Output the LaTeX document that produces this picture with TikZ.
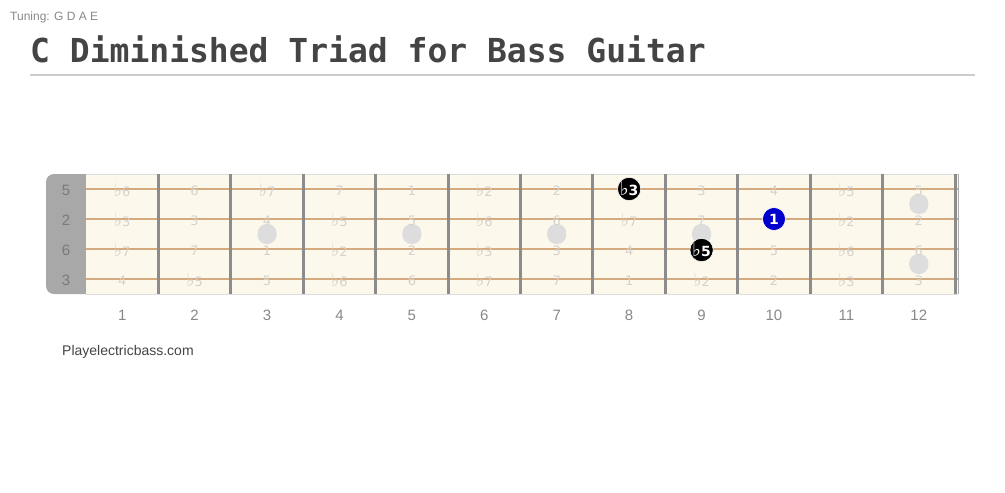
\documentclass[tikz,border=0pt]{standalone}
\usepackage{graphicx}
\usepackage{fontspec}
\setmainfont{Liberation Sans}
\newfontfamily\titlefont{DejaVu Sans Mono}
\newfontfamily\notefont{DejaVu Sans}
\definecolor{boardcream}{HTML}{FDF8EC}
\definecolor{stringtan}{HTML}{D4AA80}
\definecolor{fretgray}{HTML}{8C8C8C}
\definecolor{nutgray}{HTML}{A8A8A8}
\definecolor{inlaygray}{HTML}{DDDDDD}
\definecolor{intervalgray}{HTML}{D6D2CA}
\definecolor{labelgray}{HTML}{888888}
\definecolor{titlegray}{HTML}{444444}
\definecolor{rulegray}{HTML}{CCCCCC}
\definecolor{rootblue}{HTML}{0000CC}
\def\fretsep{72.42}
\def\nutx{86}
\def\stringsep{30}
\newcommand\flatsign{\scalebox{1.35}{♭}}

\begin{document}
\begin{tikzpicture}[x=1pt,y=-1pt]
    \tikzstyle{fret}=[draw=fretgray, line width=3pt]
    \tikzstyle{bass string}=[draw=stringtan, line width=2pt]
    \tikzstyle{interval}=[font=\notefont\fontsize{13}{13}\selectfont, text=intervalgray, inner sep=0pt]
    \tikzstyle{inlay}=[fill=inlaygray, rounded corners=9pt, minimum width=19pt, minimum height=20pt, inner sep=0pt]
    \tikzstyle{marker}=[circle, fill=black, draw=white, line width=0.6pt, minimum size=23pt, inner sep=0pt, text=white, font=\notefont\bfseries\fontsize{14}{14}\selectfont]
    \tikzstyle{root marker}=[marker, fill=rootblue]
    \tikzstyle{fret number}=[text=labelgray, font=\fontsize{15}{15}\selectfont, anchor=base, inner sep=0pt]
    \tikzstyle{string name}=[text=labelgray!90!black, font=\fontsize{15}{15}\selectfont, inner sep=0pt]

    \useasboundingbox (0,0) rectangle (1005,493);

    % Header
    \node[anchor=base west, inner sep=0pt, text=labelgray, font=\fontsize{12}{12}\selectfont] (tuning) at (10,20) {Tuning: G D A E};
    \node[anchor=base west, inner sep=0pt, text=titlegray, font=\titlefont\bfseries\fontsize{33}{33}\selectfont] (title) at (30,62) {C Diminished Triad for Bass Guitar};
    \draw[rulegray, line width=1.5pt] (30,75) -- (975,75);

    % Nut and fretboard
    \fill[nutgray, rounded corners=8pt] (46,174) rectangle (100,294);
    \fill[boardcream] (\nutx,174) rectangle (958,294);
    \draw[inlaygray, line width=1pt] (\nutx,174) -- (958,174);
    \draw[inlaygray, line width=1pt] (\nutx,294) -- (958,294);
    \draw[fretgray!70, line width=1pt] (958,174) -- (958,294);

    % Draw the strings
    \foreach \s in {1,...,4} {
        \coordinate (L-\s) at (\nutx,{189+\stringsep*(\s-1)});
        \coordinate (R-\s) at (958,{189+\stringsep*(\s-1)});
        \draw[bass string] (L-\s) -- (R-\s);
    }

    % Draw the frets
    \foreach \name in {1,...,12}
        \draw[fret] ({\nutx+\fretsep*\name},174) -- ({\nutx+\fretsep*\name},294);

    % Inlays
    \foreach \name in {3,5,7,9}
        \node[inlay] (D-\name) at ({\nutx+\fretsep*(\name-0.5)},234) {};
    \node[inlay] (D-12a) at ({\nutx+\fretsep*11.5},204) {};
    \node[inlay] (D-12b) at ({\nutx+\fretsep*11.5},264) {};

    % String names on the nut
    \foreach \s/\t in {1/5,2/2,3/6,4/3}
        \node[string name] (S-\s) at (66,{190+\stringsep*(\s-1)}) {\t};

    % Intervals on every fret
    \foreach \s/\notes in {1/{\flatsign6,6,\flatsign7,7,1,\flatsign2,2,\flatsign3,3,4,\flatsign5,5},
                           2/{\flatsign3,3,4,\flatsign5,5,\flatsign6,6,\flatsign7,7,1,\flatsign2,2},
                           3/{\flatsign7,7,1,\flatsign2,2,\flatsign3,3,4,\flatsign5,5,\flatsign6,6},
                           4/{4,\flatsign5,5,\flatsign6,6,\flatsign7,7,1,\flatsign2,2,\flatsign3,3}}
        \foreach \t [count=\f] in \notes
            \node[interval] (N-\s-\f) at ({\nutx+\fretsep*(\f-0.5)},{190.5+\stringsep*(\s-1)}) {\t};

    % Fret numbers
    \foreach \name in {1,...,12}
        \node[fret number] (F-\name) at ({\nutx+\fretsep*(\name-0.5)},320) {\name};

    % Chord tones
    \node[marker] (M-b3) at ({\nutx+\fretsep*7.5},189) {\flatsign3};
    \node[root marker] (M-1) at ({\nutx+\fretsep*9.5},219) {1};
    \node[marker] (M-b5) at ({\nutx+\fretsep*8.5},250) {\flatsign5};

    % Footer
    \node[anchor=base west, inner sep=0pt, text=titlegray, font=\fontsize{14}{14}\selectfont] (site) at (62,355) {Playelectricbass.com};
\end{tikzpicture}
\end{document}
